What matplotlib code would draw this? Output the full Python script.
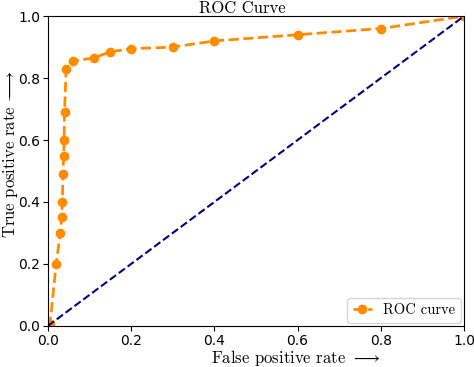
import numpy as np
import matplotlib
matplotlib.use("Agg")
import matplotlib.pyplot as plt

plt.rcParams['mathtext.fontset'] = 'cm'

# ROC points
fpr = [0.0, 0.005, 0.02, 0.03, 0.033, 0.035, 0.036, 0.038, 0.039, 0.04,
       0.044, 0.06, 0.11, 0.15, 0.2, 0.3, 0.4, 0.6, 0.8, 1.0]
tpr = [0.0, 0.005, 0.2, 0.30, 0.35, 0.40, 0.49, 0.55, 0.60, 0.69,
       0.83, 0.855, 0.865, 0.885, 0.895, 0.90, 0.92, 0.94, 0.96, 1.0]
diag = [0, 1]

serif = 'cmr10'

fig = plt.figure(figsize=(4.74, 3.67), dpi=100)
ax = fig.add_axes([0.101, 0.112, 0.878, 0.844])

ax.plot(fpr, tpr, color='darkorange', lw=2, ls='--', marker='o', ms=6,
        label='ROC curve')
ax.plot(diag, diag, color='navy', lw=1.5, ls='--')

ax.set_xlim(0, 1)
ax.set_ylim(0, 1)
ax.set_xlabel(r'False positive rate $\longrightarrow$', fontfamily=serif,
              fontsize=12)
ax.set_ylabel(r'True positive rate $-\!\!\!\!\!\longrightarrow$', fontfamily=serif,
              fontsize=12)
ax.xaxis.set_label_coords(0.595, -0.07)
ax.yaxis.set_label_coords(-0.068, 0.553)
ax.set_title('ROC Curve', fontfamily=serif, fontsize=12, pad=2, x=0.467)
ax.tick_params(labelsize=10, pad=2)

leg = ax.legend(loc='lower right', prop={'family': serif, 'size': 10.5},
                handlelength=1.3, borderaxespad=0.2)

fig.savefig('out.png', dpi=100)
